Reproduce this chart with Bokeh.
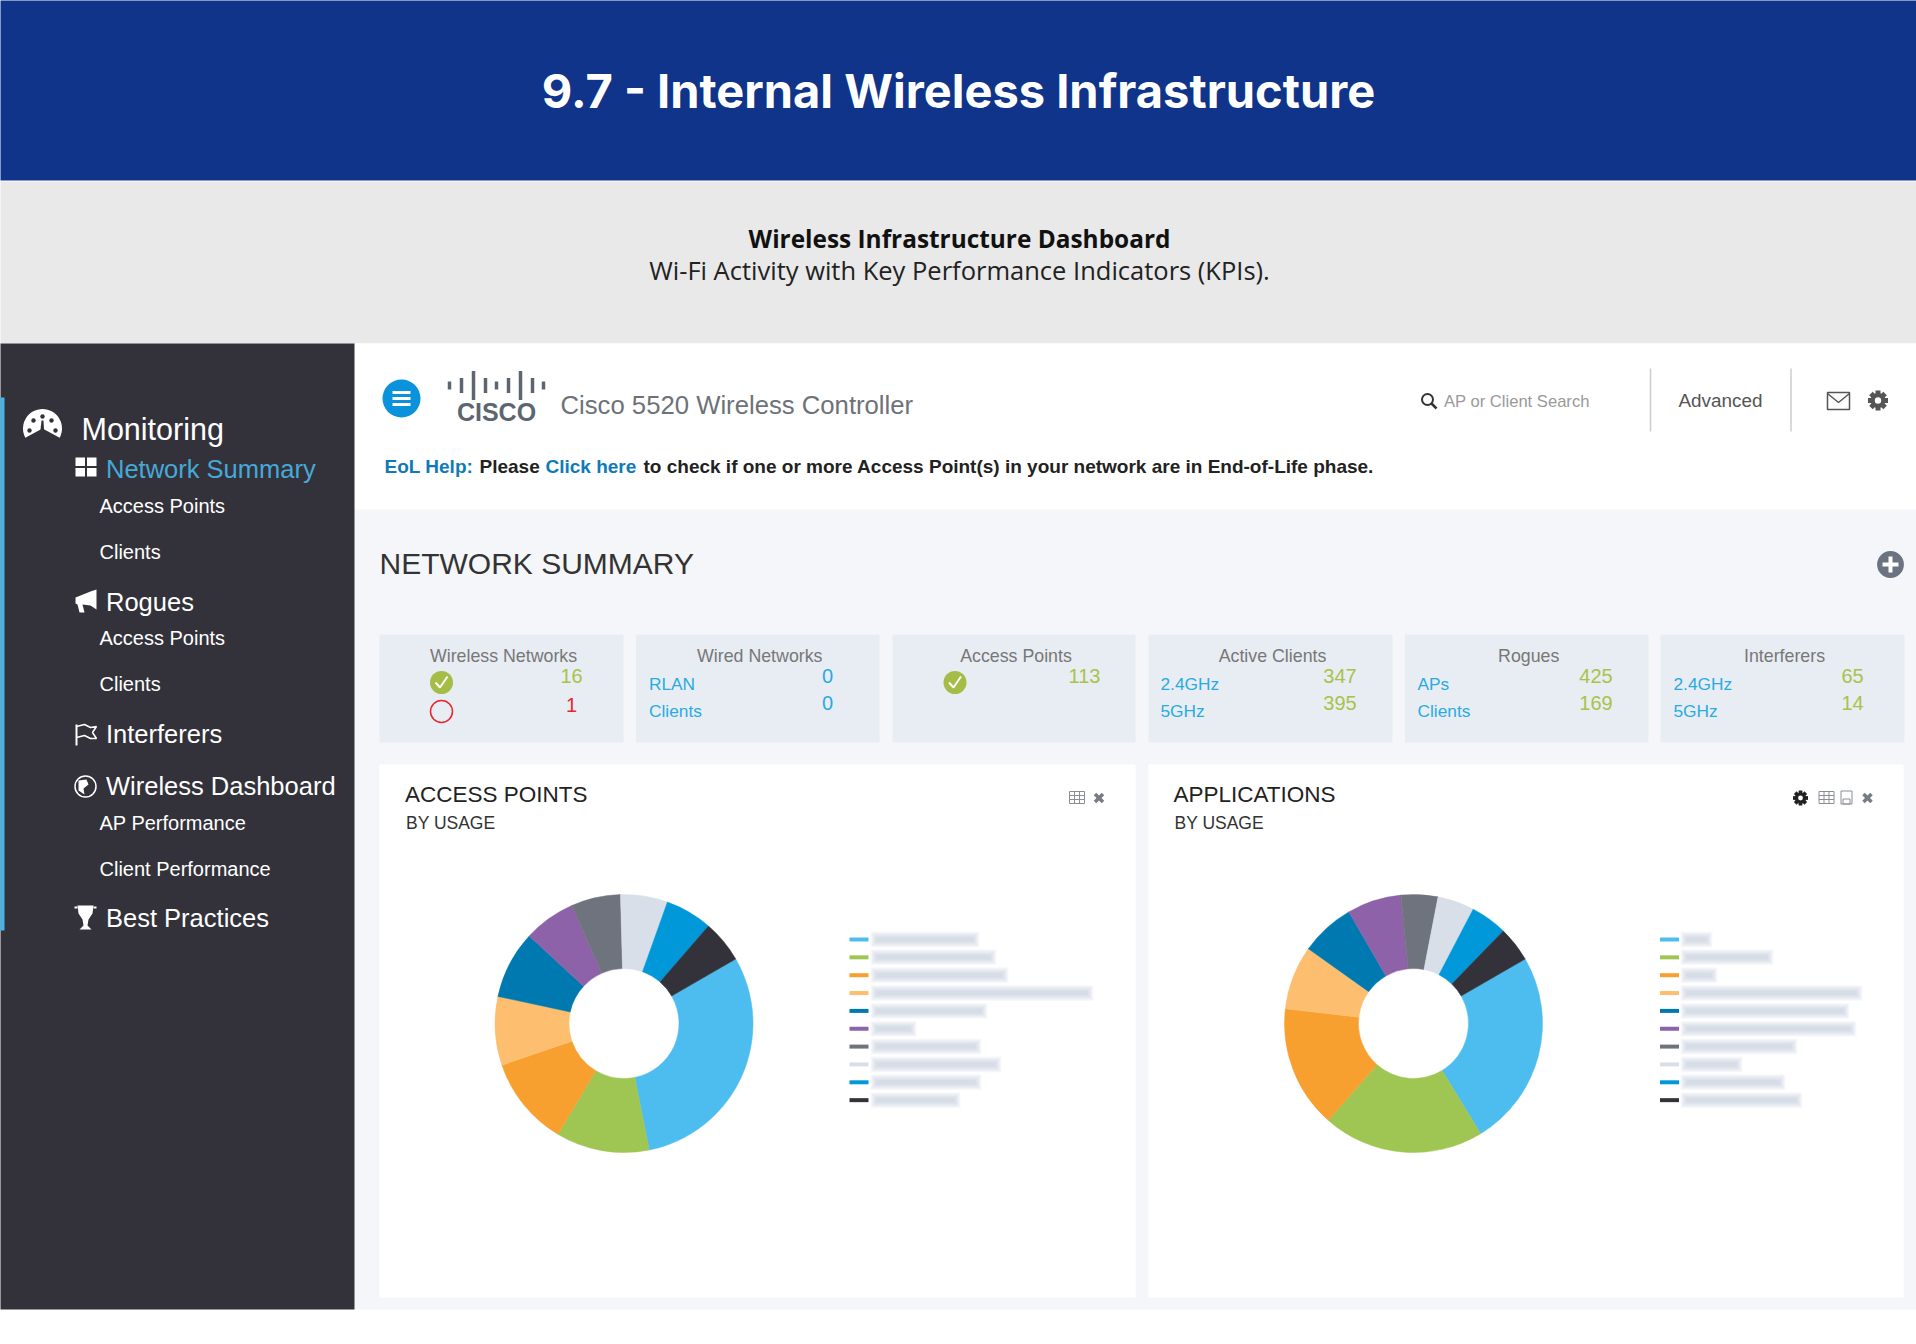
import numpy as np
from bokeh.core.properties import value
from bokeh.embed import file_html
from bokeh.plotting import figure
from bokeh.resources import INLINE

# slices (share of usage in %)
ap_usage = [30.2, 11.7, 11.2, 8.6, 8.5, 6.5, 6.2, 5.9, 5.9, 5.3]
app_usage = [24.6, 20.2, 15.3, 8.0, 6.8, 6.8, 4.6, 4.6, 4.6, 4.4]
slice_colors = ['#4dbdf0', '#9fc552', '#f8a02f', '#fdbe6f', '#0079b1',
                '#8d62a8', '#6e737d', '#d8dfe9', '#0098d8', '#33323a']

# kpi tiles
kpi_titles = ['Wireless Networks', 'Wired Networks', 'Access Points',
              'Active Clients', 'Rogues', 'Interferers']
wired_labels = ['RLAN', 'Clients']
wired_values = ['0', '0']
active_labels = ['2.4GHz', '5GHz']
active_values = ['347', '395']
rogue_labels = ['APs', 'Clients']
rogue_values = ['425', '169']
interferer_labels = ['2.4GHz', '5GHz']
interferer_values = ['65', '14']

# sidebar
menu_main = ['Network Summary', 'Rogues', 'Interferers', 'Wireless Dashboard', 'Best Practices']
menu_sub = ['Access Points', 'Clients', 'Access Points', 'Clients', 'AP Performance', 'Client Performance']

# widths of the blurred legend labels
ap_blur_widths = [95, 112, 124, 209, 103, 32, 97, 117, 97, 76]
app_blur_widths = [18, 79, 23, 168, 155, 162, 103, 48, 91, 108]

NAVY = '#0f3489'
SIDE = '#33323a'
SKY = '#29abe2'
LIME = '#a9c24a'
SANS = 'Liberation Sans'

p = figure(width=1916, height=1344, x_range=(0, 1916), y_range=(1344, 0),
           output_backend="svg", toolbar_location=None,
           x_axis_location=None, y_axis_location=None, min_border=0)
p.grid.visible = False
p.outline_line_color = None
p.background_fill_color = 'white'
p.border_fill_color = 'white'


def box(x0, y0, x1, y1, color, **kw):
    p.quad(left=[x0], right=[x1], top=[y0], bottom=[y1], fill_color=color, line_color=None, **kw)


def label(x, y, txt, size, color, bold=False, font=SANS, align='left'):
    p.text([x], [y], text=[txt], text_font=value(font), text_font_size=f'{size}px', text_color=color,
           text_align=align, text_baseline='middle', text_font_style='bold' if bold else 'normal')


def dot(x, y, r, color, line=None, width=1):
    p.circle([x], [y], radius=r, fill_color=color, line_color=line, line_width=width)


def seg(x0, y0, x1, y1, color, width=1.5):
    p.line([x0, x1], [y0, y1], line_color=color, line_width=width)


def gear(x, y, r, color, hole='white'):
    for a in np.arange(0, 180, 45):
        p.rect([x], [y], width=r * 2, height=r * 0.5, angle=a, angle_units='deg',
               fill_color=color, line_color=None)
    dot(x, y, r * 0.75, color)
    dot(x, y, r * 0.32, hole)


def grid_icon(x, y, color='#8a8f96'):
    p.rect([x], [y], width=15, height=12, fill_color=None, line_color=color, line_width=1)
    seg(x - 7.5, y - 2, x + 7.5, y - 2, color, 1)
    seg(x - 7.5, y + 2, x + 7.5, y + 2, color, 1)
    seg(x - 2.5, y - 6, x - 2.5, y + 6, color, 1)
    seg(x + 2.5, y - 6, x + 2.5, y + 6, color, 1)


def cross_icon(x, y, color='#777c84'):
    seg(x - 4, y - 4, x + 4, y + 4, color, 3.5)
    seg(x - 4, y + 4, x + 4, y - 4, color, 3.5)


def check(x, y):
    dot(x, y, 11.5, '#a3bd47')
    p.line([x - 6, x - 1.5, x + 6], [y, y + 5, y - 6], line_color='white', line_width=2)


def donut(x, y, values, blur_widths, swatch_x, blur_x):
    shares = np.array(values) / sum(values) * 360
    ends = np.cumsum(shares)
    starts = ends - shares
    p.annular_wedge(x=x, y=y, inner_radius=55, outer_radius=129, start_angle=30 - starts,
                    end_angle=30 - ends, start_angle_units='deg', end_angle_units='deg',
                    direction='clock', fill_color=slice_colors, line_color=slice_colors, line_width=0.5)
    for i, c in enumerate(slice_colors):
        ly = 939 + i * 17.85
        # legend names are blurred out in the screenshot
        for grow in [7, 6, 5, 4, 3, 2, 1]:
            box(blur_x - grow, ly - 1 - grow, blur_x + blur_widths[i] + grow, ly + 1 + grow, '#b4bfd2', fill_alpha=0.09)
        box(swatch_x, ly - 2, swatch_x + 19, ly + 2, c)


# page blocks
box(-5, -5, 1921, 180, NAVY)
box(-5, 181, 1921, 343, '#e9e9e9')
box(354, 343, 1921, 509, 'white')
box(354, 509, 1921, 1309, '#f4f6fa')
box(-5, 343, 354, 1309, SIDE)
box(-5, 397, 4, 930, '#45b3e6')

label(958, 90, '9.7 - Internal Wireless Infrastructure', 47, 'white', bold=True, font='Inter', align='center')
label(959, 238, 'Wireless Infrastructure Dashboard', 24.4, '#111111', bold=True, font='Open Sans', align='center')
label(959, 269, 'Wi-Fi Activity with Key Performance Indicators (KPIs).', 25.5, '#222222', font='Open Sans', align='center')

# sidebar
p.wedge([42], [428], radius=19.5, start_angle=-28, end_angle=208, start_angle_units='deg', end_angle_units='deg',
        fill_color='white', line_color=None)
for dx, dy in [(-13, 2), (-9, -8), (0, -12), (9, -8), (13, 2)]:
    dot(42 + dx, 428 + dy, 2.2, SIDE)
p.patch([39, 44, 43, 41], [438, 438, 420, 420], fill_color=SIDE, line_color=None)
label(81, 428, 'Monitoring', 30.5, 'white')

box(75, 457, 84.5, 465.5, 'white')
box(86.5, 457, 96, 465.5, 'white')
box(75, 467.5, 84.5, 476, 'white')
box(86.5, 467.5, 96, 476, 'white')
label(105.5, 468, menu_main[0], 25.5, '#45a9d9')
label(99, 505, menu_sub[0], 20, 'white')
label(99, 551, menu_sub[1], 20, 'white')

p.patch([75, 90, 96, 96, 90, 82, 84, 79, 77, 75], [597, 591, 589, 609, 605, 604, 612, 612, 604, 603], fill_color='white', line_color=None)
label(105.5, 601, menu_main[1], 25.5, 'white')
label(99, 637, menu_sub[2], 20, 'white')
label(99, 683, menu_sub[3], 20, 'white')

seg(76, 724, 76, 745, 'white', 2)
p.line([76, 84, 90, 96, 92, 96, 90, 84, 76], [726, 724, 727, 726, 732, 738, 738, 735, 737], line_color='white', line_width=1.5)
label(105.5, 733, menu_main[2], 25.5, 'white')

dot(85, 786, 10.5, None, 'white', 1.5)
p.patch([78, 86, 88, 83, 84, 78], [780, 779, 784, 788, 794, 790], fill_color='white', line_color=None)
label(105.5, 785, menu_main[3], 25.5, 'white')
label(99, 822, menu_sub[4], 20, 'white')
label(99, 868, menu_sub[5], 20, 'white')

p.patch([77, 93, 92, 88, 87, 91, 79, 83, 82, 78], [905, 905, 913, 919, 925, 929, 929, 925, 919, 913], fill_color='white', line_color=None)
seg(77, 907, 74, 907, 'white', 2)
seg(93, 907, 96, 907, 'white', 2)
label(105.5, 917, menu_main[4], 25.5, 'white')

# top bar
dot(401, 398, 19, '#0a93dc')
for dy in [-6, 0, 6]:
    seg(392, 398 + dy, 410, 398 + dy, 'white', 3)
for bx, h in [(449, 8), (461, 15), (473, 29), (485, 15), (496, 8), (508, 15), (520, 29), (532, 15), (543, 8)]:
    seg(bx, 385 - h / 2, bx, 385 + h / 2, '#5c6670', 3.5)
label(496, 411.5, 'CISCO', 25, '#5c6670', bold=True, align='center')
label(560, 404.5, 'Cisco 5520 Wireless Controller', 25.7, '#6d7278')
label(384, 466, 'EoL Help:', 19, '#0f7ab8', bold=True)
label(479, 466, 'Please', 19, '#222222', bold=True)
label(545, 466, 'Click here', 19, '#0f7ab8', bold=True)
label(643, 466, 'to check if one or more Access Point(s) in your network are in End-of-Life phase.', 19, '#222222', bold=True)

dot(1427, 399, 5.5, None, '#333333', 2)
seg(1431, 403, 1436, 408, '#333333', 2.5)
label(1443.5, 400.5, 'AP or Client Search', 16.6, '#999999')
seg(1650, 368, 1650, 431, '#cccccc', 1.5)
seg(1790.5, 368, 1790.5, 431, '#cccccc', 1.5)
label(1678, 400, 'Advanced', 18.9, '#555555')
p.rect([1838], [400.5], width=22, height=17, fill_color=None, line_color='#555555', line_width=1.5)
p.line([1827, 1838, 1849], [393, 402, 393], line_color='#555555', line_width=1.5)
gear(1877.5, 400, 10, '#555555')

label(379, 563, 'NETWORK SUMMARY', 30, '#333333')
dot(1890, 564, 13.4, '#6b7280')
seg(1882, 564, 1898, 564, 'white', 4)
seg(1890, 556, 1890, 572, 'white', 4)

# kpi tiles
tile_left = [379, 635.5, 892, 1148, 1404.5, 1660]
tile_right = [623, 879, 1135, 1392, 1648, 1904]
for i, title in enumerate(kpi_titles):
    box(tile_left[i], 634, tile_right[i], 742, '#e8edf3')
    label((tile_left[i] + tile_right[i]) / 2 + 2, 655, title, 17.8, '#777777', align='center')

check(441, 682)
dot(441, 711, 11, None, '#e8262d', 1.5)
label(571, 675, '16', 20, LIME, align='center')
label(571, 704, '1', 20, '#e8262d', align='center')
check(954.5, 682)
label(1084, 675, '113', 20, LIME, align='center')

for i in range(2):
    ly, vy = [683, 710.5][i], [675, 702][i]
    label(648.5, ly, wired_labels[i], 17.3, SKY)
    label(827, vy, wired_values[i], 20, SKY, align='center')
    label(1160, ly, active_labels[i], 17.3, SKY)
    label(1339.5, vy, active_values[i], 20, LIME, align='center')
    label(1417, ly, rogue_labels[i], 17.3, SKY)
    label(1595.5, vy, rogue_values[i], 20, LIME, align='center')
    label(1673, ly, interferer_labels[i], 17.3, SKY)
    label(1852, vy, interferer_values[i], 20, LIME, align='center')

# chart panels
box(379, 764, 1135, 1297, 'white')
box(1148, 764, 1903, 1297, 'white')
label(404.5, 793.5, 'ACCESS POINTS', 22.5, '#222222')
label(405.5, 822, 'BY USAGE', 17.5, '#333333')
label(1173, 793.5, 'APPLICATIONS', 22.5, '#222222')
label(1174, 822, 'BY USAGE', 17.5, '#333333')

grid_icon(1076.5, 797)
cross_icon(1098.5, 797.5)
gear(1800, 797.5, 7.5, '#222222')
grid_icon(1826, 797)
p.rect([1846], [797], width=11, height=13, fill_color=None, line_color='#8a8f96', line_width=1)
p.rect([1846], [801], width=7, height=5, fill_color=None, line_color='#8a8f96', line_width=1)
cross_icon(1867, 797.5)

donut(623.5, 1023, ap_usage, ap_blur_widths, 849, 877)
donut(1413, 1023, app_usage, app_blur_widths, 1659.5, 1687)

open("out.html", "w").write(file_html(p, INLINE))
